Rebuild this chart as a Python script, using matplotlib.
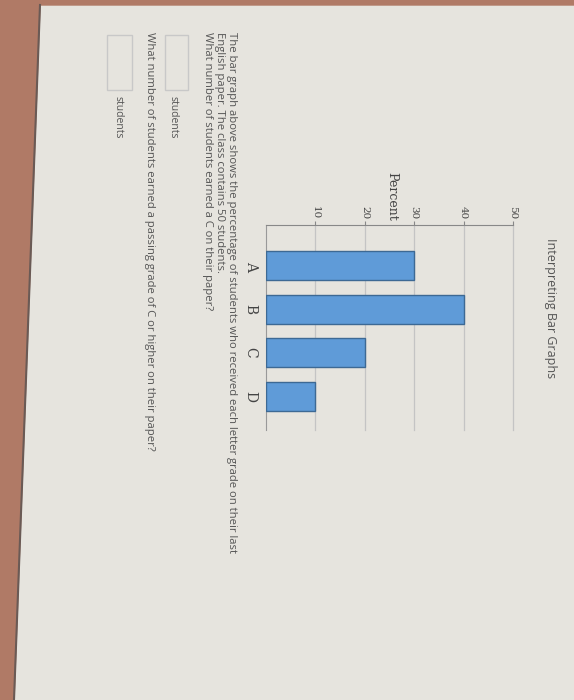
import matplotlib

matplotlib.use("Agg")

import matplotlib.pyplot as plt
from matplotlib.patches import Polygon, Rectangle

grades = ["A", "B", "C", "D"]
percents = [30, 40, 20, 10]
percent_ticks = [10, 20, 30, 40, 50]

W, H = 574, 700
fig = plt.figure(figsize=(W / 100, H / 100), dpi=100)

# background in pixel coordinates (photo of a rotated screen)
bg = fig.add_axes([0, 0, 1, 1])
bg.set_xlim(0, W)
bg.set_ylim(H, 0)
bg.axis("off")
bg.add_patch(Rectangle((0, 0), W, H, color="#e6e4de"))
bg.add_patch(Polygon([(0, 0), (W, 0), (W, 5), (40, 5), (14, H), (0, H)], color="#b07a66"))
bg.plot([40, 14], [5, H], color="#6a5a55", lw=1.5)

sans = "Open Sans"
bg.text(550, 238, "Interpreting Bar Graphs", rotation=-90, va="center", ha="left", family=sans,
        color="#555555", fontsize=9, rotation_mode="anchor")
lines = [
    (232, "The bar graph above shows the percentage of students who received each letter grade on their last"),
    (220, "English paper. The class contains 50 students."),
    (208, "What number of students earned a C on their paper?"),
    (150, "What number of students earned a passing grade of C or higher on their paper?"),
]
for x, s in lines:
    bg.text(x, 32, s, rotation=-90, va="center", ha="left", family=sans, color="#555555",
            fontsize=8.1, rotation_mode="anchor")
for x0, x1, xs in [(165, 188, 173), (107, 132, 118)]:
    bg.add_patch(Rectangle((x0, 35), x1 - x0, 55, fill=False, ec="#c8c8c8", lw=1))
    bg.text(xs, 96, "students", rotation=-90, va="center", ha="left", family=sans, color="#555555",
            fontsize=7.5, rotation_mode="anchor")

# chart axes
left, right, top, bottom = 266, 513, 225, 430
ax = fig.add_axes([left / W, 1 - bottom / H, (right - left) / W, (bottom - top) / H])
ax.patch.set_alpha(0)
ax.barh(range(len(grades)), percents, height=0.67, color="#5f9bd8", edgecolor="#3d6994", lw=1, zorder=3)
ax.set_xlim(0, 50)
ax.set_ylim(3.78, -0.94)
for t in percent_ticks:
    ax.axvline(t, color="#c4c4c4", lw=0.9, zorder=1, clip_on=False)
for s in ["right", "bottom"]:
    ax.spines[s].set_visible(False)
ax.spines["top"].set_color("#888888")
ax.spines["left"].set_color("#999999")
ax.xaxis.tick_top()
ax.set_xticks(percent_ticks)
ax.set_xticklabels([str(t) for t in percent_ticks], rotation=-90, family="DejaVu Serif",
                   fontsize=7.5, color="#444444")
ax.tick_params(axis="x", length=3, color="#888888", pad=1)
ax.set_yticks(range(len(grades)))
ax.set_yticklabels(grades, rotation=-90, family="DejaVu Serif", fontsize=10, color="#444444", va="center")
ax.tick_params(axis="y", length=0, pad=6)

bg.text(392, 196, "Percent", rotation=-90, va="center", ha="center", family="DejaVu Serif",
        fontsize=9, color="#444444")

fig.savefig("out.png", dpi=100)
